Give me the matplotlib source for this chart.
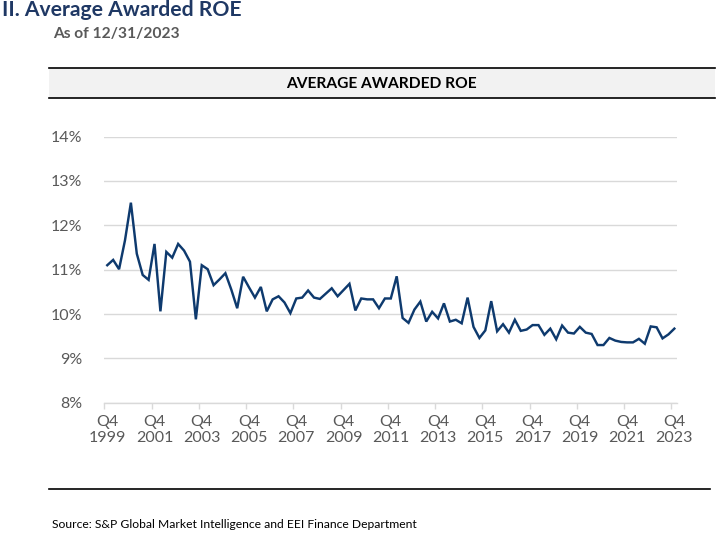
import matplotlib.pyplot as plt
from matplotlib.patches import Rectangle
from matplotlib.lines import Line2D
from matplotlib.ticker import FixedLocator, PercentFormatter

plt.rcParams["font.family"] = ["Lato", "DejaVu Sans"]

# quarterly average awarded ROE (%), Q4 1999 .. Q4 2023
quarters = ["Q4 1999"] + [f"Q{q} {y}" for y in range(2000, 2024) for q in range(1, 5)]
roe = [
    11.10, 11.22, 11.01, 11.66, 12.51, 11.36, 10.88, 10.77, 11.58, 10.06,
    11.40, 11.27, 11.58, 11.43, 11.18, 9.88, 11.10, 11.01, 10.65, 10.78,
    10.92, 10.55, 10.13, 10.84, 10.60, 10.37, 10.61, 10.06, 10.33, 10.40,
    10.26, 10.02, 10.35, 10.37, 10.53, 10.37, 10.34, 10.46, 10.58, 10.40,
    10.54, 10.68, 10.08, 10.35, 10.33, 10.33, 10.13, 10.35, 10.35, 10.85,
    9.91, 9.80, 10.10, 10.28, 9.83, 10.05, 9.90, 10.24, 9.83, 9.87,
    9.79, 10.37, 9.71, 9.46, 9.63, 10.29, 9.61, 9.77, 9.58, 9.87,
    9.62, 9.65, 9.75, 9.75, 9.53, 9.67, 9.43, 9.74, 9.58, 9.56,
    9.71, 9.58, 9.55, 9.30, 9.30, 9.46, 9.40, 9.37, 9.36, 9.36,
    9.44, 9.33, 9.72, 9.70, 9.45, 9.54, 9.67,
]
y_ticks = [8, 9, 10, 11, 12, 13, 14]

W, H = 723, 536
fig = plt.figure(figsize=(W / 100, H / 100), dpi=100)

def fx(px):
    return px / W

def fy(py):
    return 1 - py / H

# headings
fig.text(fx(2), fy(10), "II. Average Awarded ROE", fontsize=15.2, fontweight="bold",
         color="#1F3864", va="center", ha="left")
fig.text(fx(53), fy(34), "As of 12/31/2023", fontsize=11.2, fontweight="bold",
         color="#595959", va="center", ha="left")

# header band
fig.patches.append(Rectangle((fx(49), fy(98.3)), fx(715) - fx(49), fy(67.7) - fy(98.3),
                             transform=fig.transFigure, facecolor="#F2F2F2", edgecolor="none"))
for yy in (67.7, 98.3):
    fig.lines.append(Line2D([fx(49), fx(715)], [fy(yy), fy(yy)], transform=fig.transFigure,
                            color="black", lw=1.2))
fig.text(fx(381), fy(83.5), "AVERAGE AWARDED ROE", fontsize=11.2, fontweight="bold",
         color="black", va="center", ha="center")

# bottom rule + source
fig.lines.append(Line2D([fx(49), fx(710)], [fy(489), fy(489)], transform=fig.transFigure,
                        color="black", lw=1.2))
fig.text(fx(52), fy(524.5), "Source: S&P Global Market Intelligence and EEI Finance Department",
         fontsize=8.7, color="black", va="center", ha="left")

ax = fig.add_axes([fx(104.3), fy(402.7), fx(677.3) - fx(104.3), fy(136.6) - fy(402.7)])
x = list(range(len(roe)))
ax.plot(x, roe, color="#0E3A6E", lw=1.75, solid_joinstyle="miter", zorder=3)

ax.set_xlim(-0.5, len(roe) - 0.5)
ax.set_ylim(8, 14)
ax.set_yticks(y_ticks)
ax.yaxis.set_major_formatter(PercentFormatter(decimals=0))
ax.grid(axis="y", color="#D9D9D9", lw=1)
ax.set_axisbelow(True)

label_idx = list(range(0, len(roe), 8))
ax.set_xticks(label_idx)
ax.set_xticklabels([quarters[i].replace(" ", "\n") for i in label_idx])
ax.xaxis.set_minor_locator(FixedLocator([i - 0.5 for i in label_idx]))
ax.tick_params(axis="x", which="major", length=0, pad=9, labelsize=11.5, labelcolor="#595959")
ax.tick_params(axis="x", which="minor", length=4, width=1, color="#D9D9D9")
ax.tick_params(axis="y", length=0, pad=16, labelsize=11.5, labelcolor="#595959")

for side in ("top", "right", "left"):
    ax.spines[side].set_visible(False)
ax.spines["bottom"].set_color("#D9D9D9")
ax.spines["bottom"].set_linewidth(1)

fig.savefig("out.png", dpi=100)
